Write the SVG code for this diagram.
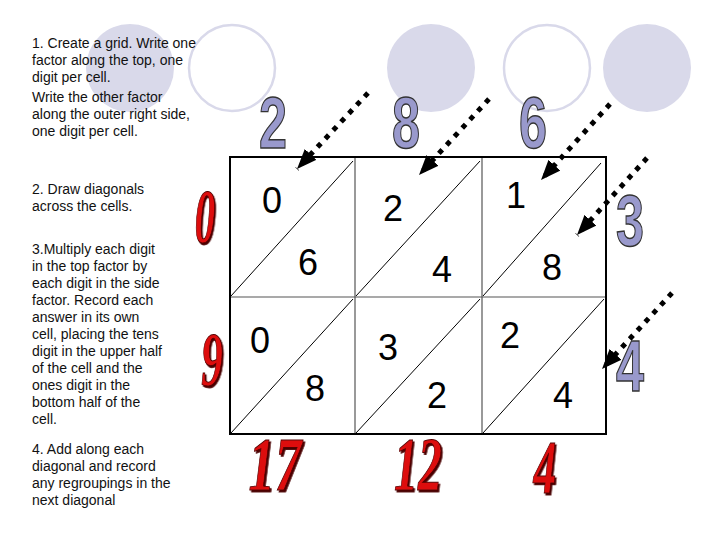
<svg xmlns="http://www.w3.org/2000/svg" width="728" height="546" viewBox="0 0 728 546">
<style>
.bg{fill:#ffffff}
.cf{fill:#d9d9ea;stroke:none}
.co{fill:none;stroke:#d9d9ea;stroke-width:2.5}
.ins{font-family:"Liberation Sans",Arial,sans-serif;font-size:14px;fill:#111}
.outer{fill:none;stroke:#000;stroke-width:2}
.inner{stroke:#555;stroke-width:1.2}
.diag{stroke:#000;stroke-width:1}
.dig{font-family:"Liberation Sans",Arial,sans-serif;font-size:36px;fill:#000;text-anchor:middle}
.pur{font-family:"Liberation Sans",Arial,sans-serif;font-weight:bold;font-size:56px;fill:#9999cc;stroke:#333;stroke-width:1.1;text-anchor:middle}
.red{font-family:"Liberation Serif","Times New Roman",serif;font-weight:bold;font-style:italic;font-size:48px;text-anchor:middle;fill:#dd1111;stroke:#500;stroke-width:0.6;filter:url(#sh)}
.arr{fill:none;stroke:#000;stroke-width:5;stroke-dasharray:5 6.5;marker-end:url(#ah)}
</style>
<defs>
<marker id="ah" viewBox="0 0 20 16" refX="20" refY="8" markerUnits="userSpaceOnUse" markerWidth="20" markerHeight="16" orient="auto">
<path d="M0,0 L20,8 L0,16 z" fill="#000"/>
</marker>
<filter id="sh" x="-20%" y="-20%" width="140%" height="140%">
<feDropShadow dx="1.6" dy="1.2" stdDeviation="0.3" flood-color="#4a0000" flood-opacity="1"/>
</filter>
</defs>
<rect class="bg" x="0" y="0" width="728" height="546"/>
<g id="decor-circles">
<circle class="cf" cx="130" cy="68" r="44"/>
<circle class="co" cx="232" cy="68" r="43"/>
<circle class="cf" cx="431" cy="68" r="44"/>
<circle class="co" cx="547" cy="68" r="43"/>
<circle class="cf" cx="647" cy="68" r="44"/>
</g>
<g id="instructions">
<text class="ins" x="32" y="48">1. Create a grid. Write one</text>
<text class="ins" x="32" y="65">factor along the top, one</text>
<text class="ins" x="32" y="82">digit per cell.</text>
<text class="ins" x="32" y="102">Write the other factor</text>
<text class="ins" x="32" y="119">along the outer right side,</text>
<text class="ins" x="32" y="136">one digit per cell.</text>
<text class="ins" x="32" y="194">2. Draw diagonals</text>
<text class="ins" x="32" y="211">across the cells.</text>
<text class="ins" x="32" y="254">3.Multiply each digit</text>
<text class="ins" x="32" y="271">in the top factor by</text>
<text class="ins" x="32" y="288">each digit in the side</text>
<text class="ins" x="32" y="305">factor. Record each</text>
<text class="ins" x="32" y="322">answer in its own</text>
<text class="ins" x="32" y="339">cell, placing the tens</text>
<text class="ins" x="32" y="356">digit in the upper half</text>
<text class="ins" x="32" y="373">of the cell and the</text>
<text class="ins" x="32" y="390">ones digit in the</text>
<text class="ins" x="32" y="407">bottom half of the</text>
<text class="ins" x="32" y="424">cell.</text>
<text class="ins" x="32" y="454">4. Add along each</text>
<text class="ins" x="32" y="471">diagonal and record</text>
<text class="ins" x="32" y="488">any regroupings in the</text>
<text class="ins" x="32" y="505">next diagonal</text>
</g>
<g id="grid">
<line class="inner" x1="355" y1="157" x2="355" y2="434"/>
<line class="inner" x1="482" y1="157" x2="482" y2="434"/>
<line class="inner" x1="230" y1="297" x2="606" y2="297"/>
<line class="diag" x1="231" y1="296" x2="353" y2="161"/>
<line class="diag" x1="356" y1="296" x2="480" y2="161"/>
<line class="diag" x1="483" y1="296" x2="601" y2="163"/>
<line class="diag" x1="231" y1="433" x2="353" y2="299"/>
<line class="diag" x1="356" y1="433" x2="480" y2="299"/>
<line class="diag" x1="483" y1="433" x2="604" y2="299"/>
<rect class="outer" x="230" y="157" width="376" height="277"/>
</g>
<g id="cell-r1c1"><text class="dig" x="272" y="213">0</text><text class="dig" x="308" y="275">6</text></g>
<g id="cell-r1c2"><text class="dig" x="393" y="221">2</text><text class="dig" x="442" y="282">4</text></g>
<g id="cell-r1c3"><text class="dig" x="516" y="208">1</text><text class="dig" x="552" y="280">8</text></g>
<g id="cell-r2c1"><text class="dig" x="260" y="353">0</text><text class="dig" x="315" y="401">8</text></g>
<g id="cell-r2c2"><text class="dig" x="388" y="360">3</text><text class="dig" x="437" y="408">2</text></g>
<g id="cell-r2c3"><text class="dig" x="510" y="348">2</text><text class="dig" x="563" y="408">4</text></g>
<g id="factor-top">
<text class="pur" transform="translate(273,148) scale(0.9,1.28)">2</text>
<text class="pur" transform="translate(406,148) scale(0.9,1.28)">8</text>
<text class="pur" transform="translate(533,148) scale(0.9,1.28)">6</text>
</g>
<g id="factor-side">
<text class="pur" transform="translate(630,246) scale(0.9,1.28)">3</text>
<text class="pur" transform="translate(630,391) scale(0.9,1.28)">4</text>
</g>
<g id="factor-left">
<text class="red" transform="translate(205,242) scale(0.85,1.6)">0</text>
<text class="red" transform="translate(212,385) scale(0.9,1.6)">9</text>
</g>
<g id="sums">
<text class="red" transform="translate(275,490) scale(1.1,1.6)">17</text>
<text class="red" transform="translate(418,490) scale(1.0,1.6)">12</text>
<text class="red" transform="translate(545,493) scale(0.95,1.6)">4</text>
</g>
<g id="arrows">
<line class="arr" x1="368" y1="93" x2="297" y2="169"/>
<line class="arr" x1="489" y1="99" x2="419" y2="175"/>
<line class="arr" x1="610" y1="104" x2="541" y2="180"/>
<line class="arr" x1="647" y1="158" x2="577" y2="235"/>
<line class="arr" x1="672" y1="293" x2="602" y2="369"/>
</g>
</svg>
